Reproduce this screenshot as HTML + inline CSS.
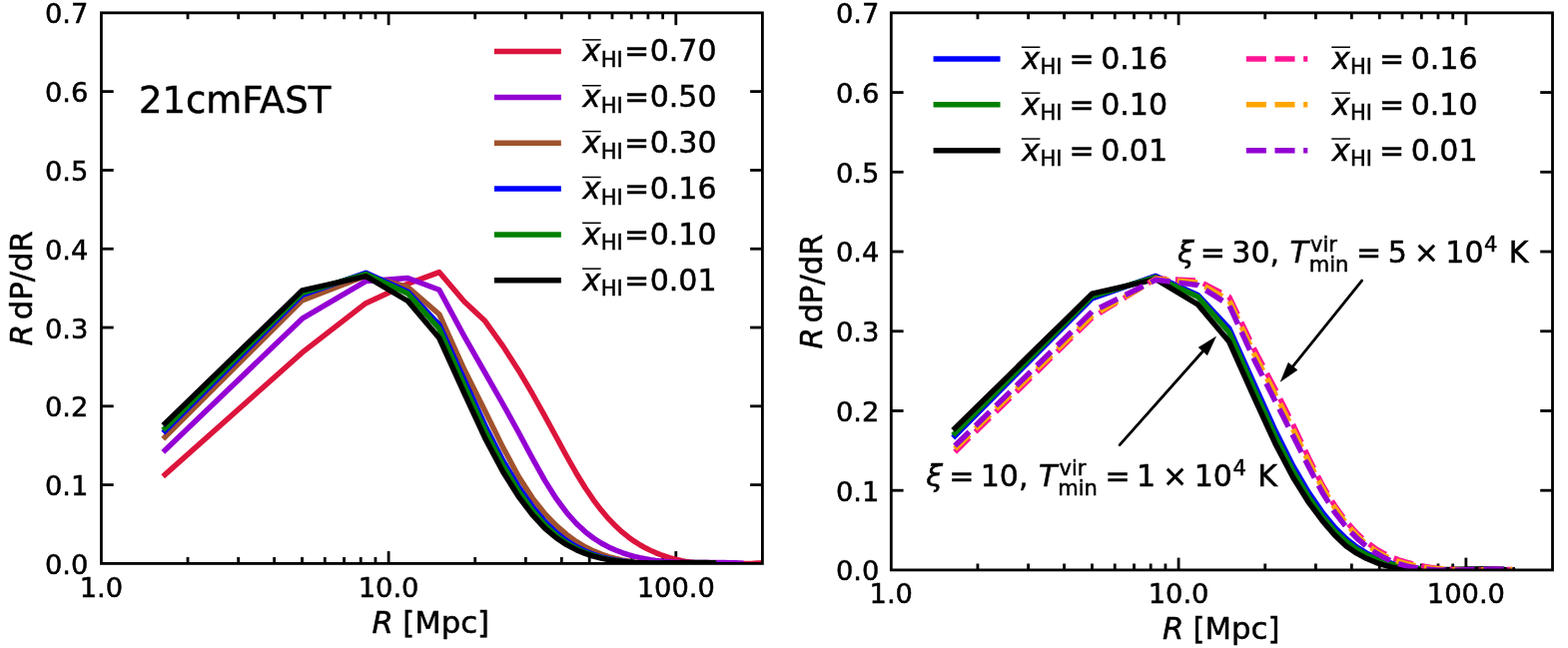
<!DOCTYPE html>
<html><head><meta charset="utf-8"><title>R dP/dR</title><style>html,body{margin:0;padding:0;background:#fff;width:1570px;height:649px;overflow:hidden}svg{display:block}</style></head><body>
<svg width="1570" height="649" viewBox="0 0 1570 649">
<style>text{font-family:"DejaVu Sans",sans-serif;fill:#000;stroke:#000;stroke-width:0.5px}.i{font-style:italic}</style>
<rect width="1570" height="649" fill="#fff"/>
<defs><clipPath id="cl"><rect x="101.4" y="12.85" width="662" height="551.55"/></clipPath>
<clipPath id="cr"><rect x="892.3" y="12.85" width="662.2" height="558.05"/></clipPath></defs>
<g stroke="#000"><line x1="188.01" y1="564.4" x2="188.01" y2="558" stroke-width="2.8"/><line x1="188.01" y1="12.85" x2="188.01" y2="19.25" stroke-width="2.8"/><line x1="238.67" y1="564.4" x2="238.67" y2="558" stroke-width="2.8"/><line x1="238.67" y1="12.85" x2="238.67" y2="19.25" stroke-width="2.8"/><line x1="274.61" y1="564.4" x2="274.61" y2="558" stroke-width="2.8"/><line x1="274.61" y1="12.85" x2="274.61" y2="19.25" stroke-width="2.8"/><line x1="302.49" y1="564.4" x2="302.49" y2="558" stroke-width="2.8"/><line x1="302.49" y1="12.85" x2="302.49" y2="19.25" stroke-width="2.8"/><line x1="325.27" y1="564.4" x2="325.27" y2="558" stroke-width="2.8"/><line x1="325.27" y1="12.85" x2="325.27" y2="19.25" stroke-width="2.8"/><line x1="344.53" y1="564.4" x2="344.53" y2="558" stroke-width="2.8"/><line x1="344.53" y1="12.85" x2="344.53" y2="19.25" stroke-width="2.8"/><line x1="361.22" y1="564.4" x2="361.22" y2="558" stroke-width="2.8"/><line x1="361.22" y1="12.85" x2="361.22" y2="19.25" stroke-width="2.8"/><line x1="375.93" y1="564.4" x2="375.93" y2="558" stroke-width="2.8"/><line x1="375.93" y1="12.85" x2="375.93" y2="19.25" stroke-width="2.8"/><line x1="389.1" y1="564.4" x2="389.1" y2="552.1" stroke-width="2.8"/><line x1="389.1" y1="12.85" x2="389.1" y2="25.15" stroke-width="2.8"/><line x1="475.7" y1="564.4" x2="475.7" y2="558" stroke-width="2.8"/><line x1="475.7" y1="12.85" x2="475.7" y2="19.25" stroke-width="2.8"/><line x1="526.36" y1="564.4" x2="526.36" y2="558" stroke-width="2.8"/><line x1="526.36" y1="12.85" x2="526.36" y2="19.25" stroke-width="2.8"/><line x1="562.31" y1="564.4" x2="562.31" y2="558" stroke-width="2.8"/><line x1="562.31" y1="12.85" x2="562.31" y2="19.25" stroke-width="2.8"/><line x1="590.19" y1="564.4" x2="590.19" y2="558" stroke-width="2.8"/><line x1="590.19" y1="12.85" x2="590.19" y2="19.25" stroke-width="2.8"/><line x1="612.97" y1="564.4" x2="612.97" y2="558" stroke-width="2.8"/><line x1="612.97" y1="12.85" x2="612.97" y2="19.25" stroke-width="2.8"/><line x1="632.23" y1="564.4" x2="632.23" y2="558" stroke-width="2.8"/><line x1="632.23" y1="12.85" x2="632.23" y2="19.25" stroke-width="2.8"/><line x1="648.91" y1="564.4" x2="648.91" y2="558" stroke-width="2.8"/><line x1="648.91" y1="12.85" x2="648.91" y2="19.25" stroke-width="2.8"/><line x1="663.63" y1="564.4" x2="663.63" y2="558" stroke-width="2.8"/><line x1="663.63" y1="12.85" x2="663.63" y2="19.25" stroke-width="2.8"/><line x1="676.79" y1="564.4" x2="676.79" y2="552.1" stroke-width="2.8"/><line x1="676.79" y1="12.85" x2="676.79" y2="25.15" stroke-width="2.8"/><line x1="101.4" y1="485.61" x2="113.7" y2="485.61" stroke-width="2.8"/><line x1="763.4" y1="485.61" x2="751.1" y2="485.61" stroke-width="2.8"/><line x1="101.4" y1="406.81" x2="113.7" y2="406.81" stroke-width="2.8"/><line x1="763.4" y1="406.81" x2="751.1" y2="406.81" stroke-width="2.8"/><line x1="101.4" y1="328.02" x2="113.7" y2="328.02" stroke-width="2.8"/><line x1="763.4" y1="328.02" x2="751.1" y2="328.02" stroke-width="2.8"/><line x1="101.4" y1="249.23" x2="113.7" y2="249.23" stroke-width="2.8"/><line x1="763.4" y1="249.23" x2="751.1" y2="249.23" stroke-width="2.8"/><line x1="101.4" y1="170.44" x2="113.7" y2="170.44" stroke-width="2.8"/><line x1="763.4" y1="170.44" x2="751.1" y2="170.44" stroke-width="2.8"/><line x1="101.4" y1="91.64" x2="113.7" y2="91.64" stroke-width="2.8"/><line x1="763.4" y1="91.64" x2="751.1" y2="91.64" stroke-width="2.8"/></g>
<g stroke="#000"><line x1="978.93" y1="570.9" x2="978.93" y2="564.5" stroke-width="2.8"/><line x1="978.93" y1="12.85" x2="978.93" y2="19.25" stroke-width="2.8"/><line x1="1029.61" y1="570.9" x2="1029.61" y2="564.5" stroke-width="2.8"/><line x1="1029.61" y1="12.85" x2="1029.61" y2="19.25" stroke-width="2.8"/><line x1="1065.56" y1="570.9" x2="1065.56" y2="564.5" stroke-width="2.8"/><line x1="1065.56" y1="12.85" x2="1065.56" y2="19.25" stroke-width="2.8"/><line x1="1093.45" y1="570.9" x2="1093.45" y2="564.5" stroke-width="2.8"/><line x1="1093.45" y1="12.85" x2="1093.45" y2="19.25" stroke-width="2.8"/><line x1="1116.24" y1="570.9" x2="1116.24" y2="564.5" stroke-width="2.8"/><line x1="1116.24" y1="12.85" x2="1116.24" y2="19.25" stroke-width="2.8"/><line x1="1135.51" y1="570.9" x2="1135.51" y2="564.5" stroke-width="2.8"/><line x1="1135.51" y1="12.85" x2="1135.51" y2="19.25" stroke-width="2.8"/><line x1="1152.19" y1="570.9" x2="1152.19" y2="564.5" stroke-width="2.8"/><line x1="1152.19" y1="12.85" x2="1152.19" y2="19.25" stroke-width="2.8"/><line x1="1166.92" y1="570.9" x2="1166.92" y2="564.5" stroke-width="2.8"/><line x1="1166.92" y1="12.85" x2="1166.92" y2="19.25" stroke-width="2.8"/><line x1="1180.08" y1="570.9" x2="1180.08" y2="558.6" stroke-width="2.8"/><line x1="1180.08" y1="12.85" x2="1180.08" y2="25.15" stroke-width="2.8"/><line x1="1266.72" y1="570.9" x2="1266.72" y2="564.5" stroke-width="2.8"/><line x1="1266.72" y1="12.85" x2="1266.72" y2="19.25" stroke-width="2.8"/><line x1="1317.39" y1="570.9" x2="1317.39" y2="564.5" stroke-width="2.8"/><line x1="1317.39" y1="12.85" x2="1317.39" y2="19.25" stroke-width="2.8"/><line x1="1353.35" y1="570.9" x2="1353.35" y2="564.5" stroke-width="2.8"/><line x1="1353.35" y1="12.85" x2="1353.35" y2="19.25" stroke-width="2.8"/><line x1="1381.24" y1="570.9" x2="1381.24" y2="564.5" stroke-width="2.8"/><line x1="1381.24" y1="12.85" x2="1381.24" y2="19.25" stroke-width="2.8"/><line x1="1404.02" y1="570.9" x2="1404.02" y2="564.5" stroke-width="2.8"/><line x1="1404.02" y1="12.85" x2="1404.02" y2="19.25" stroke-width="2.8"/><line x1="1423.29" y1="570.9" x2="1423.29" y2="564.5" stroke-width="2.8"/><line x1="1423.29" y1="12.85" x2="1423.29" y2="19.25" stroke-width="2.8"/><line x1="1439.98" y1="570.9" x2="1439.98" y2="564.5" stroke-width="2.8"/><line x1="1439.98" y1="12.85" x2="1439.98" y2="19.25" stroke-width="2.8"/><line x1="1454.7" y1="570.9" x2="1454.7" y2="564.5" stroke-width="2.8"/><line x1="1454.7" y1="12.85" x2="1454.7" y2="19.25" stroke-width="2.8"/><line x1="1467.87" y1="570.9" x2="1467.87" y2="558.6" stroke-width="2.8"/><line x1="1467.87" y1="12.85" x2="1467.87" y2="25.15" stroke-width="2.8"/><line x1="892.3" y1="491.18" x2="904.6" y2="491.18" stroke-width="2.8"/><line x1="1554.5" y1="491.18" x2="1542.2" y2="491.18" stroke-width="2.8"/><line x1="892.3" y1="411.46" x2="904.6" y2="411.46" stroke-width="2.8"/><line x1="1554.5" y1="411.46" x2="1542.2" y2="411.46" stroke-width="2.8"/><line x1="892.3" y1="331.74" x2="904.6" y2="331.74" stroke-width="2.8"/><line x1="1554.5" y1="331.74" x2="1542.2" y2="331.74" stroke-width="2.8"/><line x1="892.3" y1="252.01" x2="904.6" y2="252.01" stroke-width="2.8"/><line x1="1554.5" y1="252.01" x2="1542.2" y2="252.01" stroke-width="2.8"/><line x1="892.3" y1="172.29" x2="904.6" y2="172.29" stroke-width="2.8"/><line x1="1554.5" y1="172.29" x2="1542.2" y2="172.29" stroke-width="2.8"/><line x1="892.3" y1="92.57" x2="904.6" y2="92.57" stroke-width="2.8"/><line x1="1554.5" y1="92.57" x2="1542.2" y2="92.57" stroke-width="2.8"/></g>
<g clip-path="url(#cl)">
<polyline points="165.23,475.4 302.49,353.2 366.32,303.7 408.36,284.2 439.76,272.6 464.83,302 485.7,321.6 503.58,346.61 519.22,370.97 533.12,394.48 545.62,416.85 556.99,437.78 567.41,456.99 577.02,473.96 585.95,488.5 594.29,500.78 602.1,511.07 609.45,519.67 616.39,526.86 622.97,532.89 629.22,537.93 635.17,542.17 640.85,545.75 646.28,548.79 651.49,551.38 656.49,553.61 661.29,555.52 665.92,557.16 670.39,558.57 674.69,559.77 678.86,560.79 682.89,561.66 686.8,562.39 690.58,563 694.26,563.51 697.83,563.93 701.3,564.28 704.68,564.4 707.96,564.4 711.17,564.4 714.29,564.4 717.34,564.4 720.31,564.4 723.22,564.4 726.06,564.4 728.84,564.4 731.55,564.4 734.21,564.4 736.81,564.4 739.36,564.4 741.86,564.4 744.31,564.4 746.72,564.4 749.07,564.4 751.39,564.4 753.66,564.35 755.89,564.23 758.08,564.1 760.24,563.97 762.35,563.84 764.44,563.71 766.49,563.58" fill="none" stroke="#dc143c" stroke-width="5.46" stroke-linejoin="round" stroke-linecap="square"/>
<polyline points="165.23,451 302.49,319.2 366.32,281.6 408.36,278.5 439.76,290.3 464.83,336.72 485.7,373.43 503.58,404.77 519.22,432.96 533.12,458.95 545.62,481.4 556.99,499.43 567.41,513.47 577.02,524.28 585.95,532.61 594.29,539.02 602.1,543.98 609.45,547.89 616.39,551.03 622.97,553.56 629.22,555.62 635.17,557.3 640.85,558.66 646.28,559.77 651.49,560.65 656.49,561.36 661.29,561.91 665.92,562.35 670.39,562.68 674.69,562.94 678.86,563.14 682.89,563.28 686.8,563.38 690.58,563.45 694.26,563.49 697.83,563.51 701.3,563.52 704.68,563.52 707.96,563.52 711.17,563.51 714.29,563.51 717.34,563.51 720.31,563.52 723.22,563.54 726.06,563.56 728.84,563.61 731.55,563.66 734.21,563.73 736.81,563.82 739.36,563.93 741.86,564.06" fill="none" stroke="#9400d3" stroke-width="5.46" stroke-linejoin="round" stroke-linecap="square"/>
<polyline points="165.23,437.7 302.49,300.9 366.32,276.2 408.36,287.5 439.76,314.7 464.83,370.06 485.7,411.81 503.58,448.12 519.22,477.26 533.12,498.82 545.62,514.61 556.99,526.42 567.41,535.42 577.02,542.36 585.95,547.72 594.29,551.88 602.1,555.07 609.45,557.52 616.39,559.41 622.97,560.88 629.22,562.03 635.17,562.91 640.85,563.6 646.28,564.12 651.49,564.4 656.49,564.4 661.29,564.4 665.92,564.4 670.39,564.4 674.69,564.4 678.86,564.4 682.89,564.4 686.8,564.4 690.58,564.4 694.26,564.4 697.83,564.4 701.3,564.4 704.68,564.4 707.96,564.27 711.17,564.13 714.29,564" fill="none" stroke="#a0522d" stroke-width="5.46" stroke-linejoin="round" stroke-linecap="square"/>
<polyline points="165.23,431.6 302.49,295.5 366.32,273.3 408.36,292.2 439.76,325.2 464.83,380.27 485.7,425.91 503.58,461.12 519.22,487.47 533.12,507.4 545.62,522.43 556.99,533.53 567.41,541.63 577.02,547.56 585.95,551.99 594.29,555.31 602.1,557.79 609.45,559.64 616.39,561.02 622.97,562.05 629.22,562.81 635.17,563.37 640.85,563.77 646.28,564.04 651.49,564.22 656.49,564.33 661.29,564.38 665.92,564.38 670.39,564.36 674.69,564.31 678.86,564.25 682.89,564.18 686.8,564.11 690.58,564.05 694.26,563.99 697.83,563.94 701.3,563.91 704.68,563.89 707.96,563.89 711.17,563.92 714.29,563.97" fill="none" stroke="#0000ff" stroke-width="5.46" stroke-linejoin="round" stroke-linecap="square"/>
<polyline points="165.23,429 302.49,293.3 366.32,274.6 408.36,294 439.76,329.3 464.83,385.83 485.7,431.44 503.58,466.11 519.22,491.92 533.12,511.38 545.62,525.85 556.99,536.34 567.41,543.87 577.02,549.35 585.95,553.42 594.29,556.44 602.1,558.68 609.45,560.33 616.39,561.54 622.97,562.42 629.22,563.06 635.17,563.51 640.85,563.81 646.28,564 651.49,564.11 656.49,564.16 661.29,564.16 665.92,564.13 670.39,564.07 674.69,564.01 678.86,563.93 682.89,563.86 686.8,563.8 690.58,563.74 694.26,563.7 697.83,563.68 701.3,563.68 704.68,563.7 707.96,563.75 711.17,563.83 714.29,563.94" fill="none" stroke="#008000" stroke-width="5.46" stroke-linejoin="round" stroke-linecap="square"/>
<polyline points="165.23,424.1 302.49,290.9 366.32,276.6 408.36,301.5 439.76,338.5 464.83,393.85 485.7,438.87 503.58,472.56 519.22,497.3 533.12,515.69 545.62,529.11 556.99,538.74 567.41,545.63 577.02,550.66 585.95,554.38 594.29,557.15 602.1,559.19 609.45,560.68 616.39,561.76 622.97,562.53 629.22,563.07 635.17,563.45 640.85,563.68 646.28,563.82 651.49,563.89 656.49,563.9 661.29,563.88 665.92,563.82 670.39,563.76 674.69,563.68 678.86,563.61 682.89,563.54 686.8,563.49 690.58,563.45 694.26,563.43 697.83,563.43 701.3,563.46 704.68,563.51 707.96,563.6 711.17,563.72 714.29,563.87" fill="none" stroke="#000000" stroke-width="5.46" stroke-linejoin="round" stroke-linecap="square"/>
</g>
<g clip-path="url(#cr)">
<polyline points="956.14,436.53 1093.45,298.83 1157.3,276.37 1199.35,295.49 1230.76,328.88 1255.84,384.6 1276.72,430.78 1294.61,466.41 1310.25,493.07 1324.15,513.23 1336.66,528.44 1348.03,539.67 1358.45,547.86 1368.07,553.86 1377,558.34 1385.33,561.7 1393.15,564.21 1400.5,566.08 1407.45,567.48 1414.03,568.52 1420.28,569.29 1426.23,569.86 1431.91,570.26 1437.35,570.54 1442.56,570.72 1447.56,570.83 1452.36,570.88 1456.99,570.88 1461.46,570.86 1465.77,570.81 1469.93,570.75 1473.97,570.68 1477.87,570.61 1481.66,570.54 1485.34,570.48 1488.91,570.44 1492.38,570.4 1495.76,570.38 1499.05,570.39 1502.25,570.41 1505.38,570.46 1508.42,570.9 1511.4,570.9 1514.31,570.9" fill="none" stroke="#0000ff" stroke-width="5.46" stroke-linejoin="round" stroke-linecap="square"/>
<polyline points="956.14,433.9 1093.45,296.61 1157.3,277.68 1199.35,297.31 1230.76,333.03 1255.84,390.22 1276.72,436.37 1294.61,471.45 1310.25,497.56 1324.15,517.25 1336.66,531.9 1348.03,542.51 1358.45,550.13 1368.07,555.68 1377,559.79 1385.33,562.85 1393.15,565.12 1400.5,566.78 1407.45,568.01 1414.03,568.9 1420.28,569.54 1426.23,570 1431.91,570.3 1437.35,570.5 1442.56,570.61 1447.56,570.66 1452.36,570.66 1456.99,570.62 1461.46,570.57 1465.77,570.5 1469.93,570.43 1473.97,570.36 1477.87,570.29 1481.66,570.23 1485.34,570.19 1488.91,570.17 1492.38,570.17 1495.76,570.2 1499.05,570.25 1502.25,570.33 1505.38,570.44 1508.42,570.9 1511.4,570.9 1514.31,570.9" fill="none" stroke="#008000" stroke-width="5.46" stroke-linejoin="round" stroke-linecap="square"/>
<polyline points="956.14,428.95 1093.45,294.18 1157.3,279.71 1199.35,304.9 1230.76,342.34 1255.84,398.34 1276.72,443.9 1294.61,477.98 1310.25,503.01 1324.15,521.61 1336.66,536.27 1348.03,547.06 1358.45,554.2 1368.07,559.29 1377,563.06 1385.33,565.86 1393.15,567.93 1400.5,569.43 1407.45,570.52 1414.03,570.9 1420.28,570.9 1426.23,570.9 1431.91,570.9 1437.35,570.9 1442.56,570.81 1447.56,570.54 1452.36,570.37 1456.99,570.32 1461.46,570.25 1465.77,570.17 1469.93,570.1 1473.97,570.03 1477.87,569.98 1481.66,569.94 1485.34,569.91 1488.91,569.92 1492.38,569.94 1495.76,570 1499.05,570.09 1502.25,570.21 1505.38,570.37 1508.42,570.9 1511.4,570.9 1514.31,570.9" fill="none" stroke="#000000" stroke-width="5.46" stroke-linejoin="round" stroke-linecap="square"/>
<polyline points="956.14,452.7 1093.45,318.2 1157.3,279 1199.35,281 1230.76,297.3 1255.84,349.89 1276.72,389.47 1294.61,425.08 1310.25,458.51 1324.15,485.93 1336.66,506.72 1348.03,522.29 1358.45,533.99 1368.07,542.77 1377,549.31 1385.33,554.17 1393.15,557.87 1400.5,560.73 1407.45,562.97 1414.03,564.74 1420.28,566.15 1426.23,567.27 1431.91,568.16 1437.35,568.87 1442.56,569.43 1447.56,569.87 1452.36,570.21 1456.99,570.46 1461.46,570.65 1465.77,570.79 1469.93,570.88 1473.97,570.9 1477.87,570.9 1481.66,570.9 1485.34,570.9 1488.91,570.9 1492.38,570.85 1495.76,570.8 1499.05,570.74 1502.25,570.68 1505.38,570.63 1508.42,570.57 1511.4,570.51 1514.31,570.47" fill="none" stroke="#ff1493" stroke-width="5.46" stroke-linejoin="round" stroke-dasharray="20.05,8.62" stroke-linecap="butt"/>
<polyline points="956.14,449.5 1093.45,316.3 1157.3,279.5 1199.35,282.9 1230.76,300.9 1255.84,354.53 1276.72,394.46 1294.61,429.89 1310.25,462.18 1324.15,488.52 1336.66,508.85 1348.03,524.44 1358.45,536.28 1368.07,545.1 1377,551.55 1385.33,556.25 1393.15,559.74 1400.5,562.39 1407.45,564.43 1414.03,565.99 1420.28,567.21 1426.23,568.15 1431.91,568.87 1437.35,569.42 1442.56,569.84 1447.56,570.16 1452.36,570.38 1456.99,570.54 1461.46,570.65 1465.77,570.71 1469.93,570.74 1473.97,570.74 1477.87,570.73 1481.66,570.7 1485.34,570.67 1488.91,570.64 1492.38,570.6 1495.76,570.57 1499.05,570.54 1502.25,570.53 1505.38,570.52 1508.42,570.53 1511.4,570.55 1514.31,570.59" fill="none" stroke="#ffa500" stroke-width="5.46" stroke-linejoin="round" stroke-dasharray="20.05,8.62" stroke-linecap="butt"/>
<polyline points="956.14,446.5 1093.45,312.1 1157.3,280.2 1199.35,285.5 1230.76,305.5 1255.84,360.19 1276.72,401.49 1294.61,436.21 1310.25,467.25 1324.15,493.45 1336.66,513.36 1348.03,528.02 1358.45,538.9 1368.07,547.14 1377,553.44 1385.33,558.26 1393.15,561.92 1400.5,564.64 1407.45,566.62 1414.03,568.06 1420.28,569.1 1426.23,569.84 1431.91,570.34 1437.35,570.68 1442.56,570.87 1447.56,570.9 1452.36,570.9 1456.99,570.9 1461.46,570.89 1465.77,570.79 1469.93,570.68 1473.97,570.57 1477.87,570.45 1481.66,570.34 1485.34,570.25 1488.91,570.18 1492.38,570.13 1495.76,570.1 1499.05,570.1 1502.25,570.14 1505.38,570.21 1508.42,570.31 1511.4,570.46 1514.31,570.65" fill="none" stroke="#9400d3" stroke-width="5.46" stroke-linejoin="round" stroke-dasharray="20.05,8.62" stroke-linecap="butt"/>
</g>
<rect x="101.4" y="12.85" width="662" height="551.55" fill="none" stroke="#000" stroke-width="2.8"/>
<g class="t" style="font-size:27.3px"><text x="88.3" y="574.9" text-anchor="end">0.0</text><text x="88.3" y="496.11" text-anchor="end">0.1</text><text x="88.3" y="417.31" text-anchor="end">0.2</text><text x="88.3" y="338.52" text-anchor="end">0.3</text><text x="88.3" y="259.73" text-anchor="end">0.4</text><text x="88.3" y="180.94" text-anchor="end">0.5</text><text x="88.3" y="102.14" text-anchor="end">0.6</text><text x="88.3" y="23.35" text-anchor="end">0.7</text><text x="101.4" y="597.9" text-anchor="middle">1.0</text><text x="389.1" y="597.9" text-anchor="middle">10.0</text><text x="676.79" y="597.9" text-anchor="middle">100.0</text></g>
<rect x="892.3" y="12.85" width="662.2" height="558.05" fill="none" stroke="#000" stroke-width="2.8"/>
<g class="t" style="font-size:27.3px"><text x="880.3" y="581.3" text-anchor="end">0.0</text><text x="880.3" y="501.58" text-anchor="end">0.1</text><text x="880.3" y="421.86" text-anchor="end">0.2</text><text x="880.3" y="342.14" text-anchor="end">0.3</text><text x="880.3" y="262.41" text-anchor="end">0.4</text><text x="880.3" y="182.69" text-anchor="end">0.5</text><text x="880.3" y="102.97" text-anchor="end">0.6</text><text x="880.3" y="23.25" text-anchor="end">0.7</text><text x="892.3" y="604.3" text-anchor="middle">1.0</text><text x="1180.08" y="604.3" text-anchor="middle">10.0</text><text x="1467.87" y="604.3" text-anchor="middle">100.0</text></g>
<text y="633.7" style="font-size:30.7px"><tspan class="i" x="372.6">R</tspan><tspan x="403.3">[Mpc]</tspan></text>
<text y="640.1" style="font-size:30.7px"><tspan class="i" x="1163.9">R</tspan><tspan x="1194.6">[Mpc]</tspan></text>
<text transform="translate(31.8,346.2) rotate(-90)" y="0" style="font-size:30.7px"><tspan class="i" x="0">R</tspan><tspan x="25.9">dP/dR</tspan></text>
<text transform="translate(822.8,349.5) rotate(-90)" y="0" style="font-size:30.7px"><tspan class="i" x="0">R</tspan><tspan x="25.9">dP/dR</tspan></text>
<text x="139" y="112.7" style="font-size:36.9px">21cmFAST</text>
<polyline points="497.6,51.55 559.1,51.55" fill="none" stroke="#dc143c" stroke-width="5.46" stroke-linejoin="round" stroke-linecap="square"/>
<text y="61.35" style="font-size:30.0px"><tspan class="i" x="583.5">x</tspan><tspan x="601.76" y="66.95" style="font-size:21px">HI</tspan><tspan x="624.94" y="61.35">=</tspan><tspan x="650.74">0.70</tspan></text>
<rect x="583.1" y="39.15" width="18.6" height="1.5" fill="#000"/>
<polyline points="497.6,97.4 559.1,97.4" fill="none" stroke="#9400d3" stroke-width="5.46" stroke-linejoin="round" stroke-linecap="square"/>
<text y="107.2" style="font-size:30.0px"><tspan class="i" x="583.5">x</tspan><tspan x="601.76" y="112.8" style="font-size:21px">HI</tspan><tspan x="624.94" y="107.2">=</tspan><tspan x="650.74">0.50</tspan></text>
<rect x="583.1" y="85" width="18.6" height="1.5" fill="#000"/>
<polyline points="497.6,143.25 559.1,143.25" fill="none" stroke="#a0522d" stroke-width="5.46" stroke-linejoin="round" stroke-linecap="square"/>
<text y="153.05" style="font-size:30.0px"><tspan class="i" x="583.5">x</tspan><tspan x="601.76" y="158.65" style="font-size:21px">HI</tspan><tspan x="624.94" y="153.05">=</tspan><tspan x="650.74">0.30</tspan></text>
<rect x="583.1" y="130.85" width="18.6" height="1.5" fill="#000"/>
<polyline points="497.6,189.1 559.1,189.1" fill="none" stroke="#0000ff" stroke-width="5.46" stroke-linejoin="round" stroke-linecap="square"/>
<text y="198.9" style="font-size:30.0px"><tspan class="i" x="583.5">x</tspan><tspan x="601.76" y="204.5" style="font-size:21px">HI</tspan><tspan x="624.94" y="198.9">=</tspan><tspan x="650.74">0.16</tspan></text>
<rect x="583.1" y="176.7" width="18.6" height="1.5" fill="#000"/>
<polyline points="497.6,234.95 559.1,234.95" fill="none" stroke="#008000" stroke-width="5.46" stroke-linejoin="round" stroke-linecap="square"/>
<text y="244.75" style="font-size:30.0px"><tspan class="i" x="583.5">x</tspan><tspan x="601.76" y="250.35" style="font-size:21px">HI</tspan><tspan x="624.94" y="244.75">=</tspan><tspan x="650.74">0.10</tspan></text>
<rect x="583.1" y="222.55" width="18.6" height="1.5" fill="#000"/>
<polyline points="497.6,280.8 559.1,280.8" fill="none" stroke="#000000" stroke-width="5.46" stroke-linejoin="round" stroke-linecap="square"/>
<text y="290.6" style="font-size:30.0px"><tspan class="i" x="583.5">x</tspan><tspan x="601.76" y="296.2" style="font-size:21px">HI</tspan><tspan x="624.94" y="290.6">=</tspan><tspan x="650.74">0.01</tspan></text>
<rect x="583.1" y="268.4" width="18.6" height="1.5" fill="#000"/>
<polyline points="937.3,58.9 998.8,58.9" fill="none" stroke="#0000ff" stroke-width="5.46" stroke-linejoin="round" stroke-linecap="square"/>
<text y="68.7" style="font-size:30.0px"><tspan class="i" x="1023.2">x</tspan><tspan x="1041.46" y="74.3" style="font-size:21px">HI</tspan><tspan x="1070.44" y="68.7">=</tspan><tspan x="1102.24">0.16</tspan></text>
<rect x="1022.8" y="46.5" width="18.6" height="1.5" fill="#000"/>
<polyline points="937.3,104.8 998.8,104.8" fill="none" stroke="#008000" stroke-width="5.46" stroke-linejoin="round" stroke-linecap="square"/>
<text y="114.6" style="font-size:30.0px"><tspan class="i" x="1023.2">x</tspan><tspan x="1041.46" y="120.2" style="font-size:21px">HI</tspan><tspan x="1070.44" y="114.6">=</tspan><tspan x="1102.24">0.10</tspan></text>
<rect x="1022.8" y="92.4" width="18.6" height="1.5" fill="#000"/>
<polyline points="937.3,150.7 998.8,150.7" fill="none" stroke="#000000" stroke-width="5.46" stroke-linejoin="round" stroke-linecap="square"/>
<text y="160.5" style="font-size:30.0px"><tspan class="i" x="1023.2">x</tspan><tspan x="1041.46" y="166.1" style="font-size:21px">HI</tspan><tspan x="1070.44" y="160.5">=</tspan><tspan x="1102.24">0.01</tspan></text>
<rect x="1022.8" y="138.3" width="18.6" height="1.5" fill="#000"/>
<polyline points="1247.8,58.9 1309.3,58.9" fill="none" stroke="#ff1493" stroke-width="5.46" stroke-linejoin="round" stroke-dasharray="20.05,8.62" stroke-linecap="butt"/>
<text y="68.7" style="font-size:30.0px"><tspan class="i" x="1333.7">x</tspan><tspan x="1351.96" y="74.3" style="font-size:21px">HI</tspan><tspan x="1380.94" y="68.7">=</tspan><tspan x="1412.74">0.16</tspan></text>
<rect x="1333.3" y="46.5" width="18.6" height="1.5" fill="#000"/>
<polyline points="1247.8,104.8 1309.3,104.8" fill="none" stroke="#ffa500" stroke-width="5.46" stroke-linejoin="round" stroke-dasharray="20.05,8.62" stroke-linecap="butt"/>
<text y="114.6" style="font-size:30.0px"><tspan class="i" x="1333.7">x</tspan><tspan x="1351.96" y="120.2" style="font-size:21px">HI</tspan><tspan x="1380.94" y="114.6">=</tspan><tspan x="1412.74">0.10</tspan></text>
<rect x="1333.3" y="92.4" width="18.6" height="1.5" fill="#000"/>
<polyline points="1247.8,150.7 1309.3,150.7" fill="none" stroke="#9400d3" stroke-width="5.46" stroke-linejoin="round" stroke-dasharray="20.05,8.62" stroke-linecap="butt"/>
<text y="160.5" style="font-size:30.0px"><tspan class="i" x="1333.7">x</tspan><tspan x="1351.96" y="166.1" style="font-size:21px">HI</tspan><tspan x="1380.94" y="160.5">=</tspan><tspan x="1412.74">0.01</tspan></text>
<rect x="1333.3" y="138.3" width="18.6" height="1.5" fill="#000"/>
<text y="263" style="font-size:30.0px"><tspan class="i" x="1178.92">ξ</tspan><tspan x="1201.82">=</tspan><tspan x="1233.31">30,</tspan><tspan class="i" x="1291.6">T</tspan><tspan x="1312.1" y="251.8" style="font-size:21px">vir</tspan><tspan x="1310.8" y="271.9" style="font-size:21px">min</tspan><tspan x="1358" y="263">=</tspan><tspan x="1389.7">5</tspan><tspan x="1415.7">×</tspan><tspan x="1447.3">10</tspan><tspan x="1486" y="251.8" style="font-size:21px">4</tspan><tspan x="1510.8" y="263">K</tspan></text>
<text y="486.9" style="font-size:30.0px"><tspan class="i" x="927.32">ξ</tspan><tspan x="950.22">=</tspan><tspan x="981.71">10,</tspan><tspan class="i" x="1040">T</tspan><tspan x="1060.5" y="475.7" style="font-size:21px">vir</tspan><tspan x="1059.2" y="495.8" style="font-size:21px">min</tspan><tspan x="1106.4" y="486.9">=</tspan><tspan x="1138.1">1</tspan><tspan x="1164.1">×</tspan><tspan x="1195.7">10</tspan><tspan x="1234.4" y="475.7" style="font-size:21px">4</tspan><tspan x="1259.2" y="486.9">K</tspan></text>
<line x1="1363.6" y1="281.1" x2="1293.21" y2="368.55" stroke="#000" stroke-width="2.8" stroke-linecap="round"/>
<polygon points="1282.3,382.1 1289.95,363.35 1298.98,370.62" fill="#000" stroke="#000" stroke-width="0.6" stroke-linejoin="round"/>
<line x1="1121.1" y1="445.6" x2="1205.84" y2="350.3" stroke="#000" stroke-width="2.8" stroke-linecap="round"/>
<polygon points="1217.4,337.3 1208.84,355.65 1200.17,347.94" fill="#000" stroke="#000" stroke-width="0.6" stroke-linejoin="round"/>
</svg>
</body></html>
